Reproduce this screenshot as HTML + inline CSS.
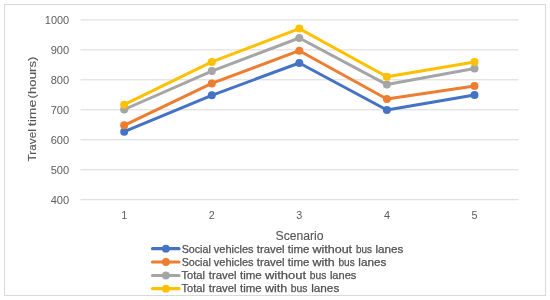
<!DOCTYPE html>
<html><head><meta charset="utf-8"><title>Chart</title>
<style>
html,body{margin:0;padding:0;background:#fff;}
body{width:550px;height:300px;overflow:hidden;}
svg{display:block;}
text{font-family:"Liberation Sans",sans-serif;fill:#505050;stroke:#505050;stroke-width:0.25px;}
text.t{fill:#5c5c5c;stroke:none;}
text.h{fill:#555;stroke:#555;stroke-width:0.1px;}
</style></head><body>
<svg width="550" height="300" viewBox="0 0 550 300">
<rect x="0" y="0" width="550" height="300" fill="#fff"/>
<rect x="4.5" y="4.5" width="541" height="291" fill="#fff" stroke="#d9d9d9" stroke-width="1"/>

<line x1="80.5" y1="19.90" x2="518.5" y2="19.90" stroke="#d9d9d9" stroke-width="1"/>
<text class="t" x="69.2" y="24" font-size="10.8" text-anchor="end" textLength="24.4" lengthAdjust="spacingAndGlyphs">1000</text>
<line x1="80.5" y1="49.87" x2="518.5" y2="49.87" stroke="#d9d9d9" stroke-width="1"/>
<text class="t" x="69.2" y="54" font-size="10.8" text-anchor="end" textLength="18.5" lengthAdjust="spacingAndGlyphs">900</text>
<line x1="80.5" y1="79.84" x2="518.5" y2="79.84" stroke="#d9d9d9" stroke-width="1"/>
<text class="t" x="69.2" y="84" font-size="10.8" text-anchor="end" textLength="18.5" lengthAdjust="spacingAndGlyphs">800</text>
<line x1="80.5" y1="109.81" x2="518.5" y2="109.81" stroke="#d9d9d9" stroke-width="1"/>
<text class="t" x="69.2" y="114" font-size="10.8" text-anchor="end" textLength="18.5" lengthAdjust="spacingAndGlyphs">700</text>
<line x1="80.5" y1="139.78" x2="518.5" y2="139.78" stroke="#d9d9d9" stroke-width="1"/>
<text class="t" x="69.2" y="144" font-size="10.8" text-anchor="end" textLength="18.5" lengthAdjust="spacingAndGlyphs">600</text>
<line x1="80.5" y1="169.75" x2="518.5" y2="169.75" stroke="#d9d9d9" stroke-width="1"/>
<text class="t" x="69.2" y="174" font-size="10.8" text-anchor="end" textLength="18.5" lengthAdjust="spacingAndGlyphs">500</text>
<line x1="80.5" y1="199.72" x2="518.5" y2="199.72" stroke="#d9d9d9" stroke-width="1"/>
<text class="t" x="69.2" y="204" font-size="10.8" text-anchor="end" textLength="18.5" lengthAdjust="spacingAndGlyphs">400</text>
<text class="t" x="124.2" y="219.3" font-size="10.8" text-anchor="middle">1</text>
<text class="t" x="211.8" y="219.3" font-size="10.8" text-anchor="middle">2</text>
<text class="t" x="299.3" y="219.3" font-size="10.8" text-anchor="middle">3</text>
<text class="t" x="386.9" y="219.3" font-size="10.8" text-anchor="middle">4</text>
<text class="t" x="474.5" y="219.3" font-size="10.8" text-anchor="middle">5</text>
<polyline points="124.2,131.7 211.8,95.3 299.3,63.0 386.9,110.0 474.5,95.0" fill="none" stroke="#4472C4" stroke-width="3" stroke-linejoin="round" stroke-linecap="round"/>
<circle cx="124.2" cy="131.7" r="4.0" fill="#4472C4"/>
<circle cx="211.8" cy="95.3" r="4.0" fill="#4472C4"/>
<circle cx="299.3" cy="63.0" r="4.0" fill="#4472C4"/>
<circle cx="386.9" cy="110.0" r="4.0" fill="#4472C4"/>
<circle cx="474.5" cy="95.0" r="4.0" fill="#4472C4"/>
<polyline points="124.2,125.3 211.8,83.4 299.3,50.7 386.9,99.0 474.5,86.0" fill="none" stroke="#ED7D31" stroke-width="3" stroke-linejoin="round" stroke-linecap="round"/>
<circle cx="124.2" cy="125.3" r="4.0" fill="#ED7D31"/>
<circle cx="211.8" cy="83.4" r="4.0" fill="#ED7D31"/>
<circle cx="299.3" cy="50.7" r="4.0" fill="#ED7D31"/>
<circle cx="386.9" cy="99.0" r="4.0" fill="#ED7D31"/>
<circle cx="474.5" cy="86.0" r="4.0" fill="#ED7D31"/>
<polyline points="124.2,109.5 211.8,71.1 299.3,38.0 386.9,84.6 474.5,68.6" fill="none" stroke="#A5A5A5" stroke-width="3" stroke-linejoin="round" stroke-linecap="round"/>
<circle cx="124.2" cy="109.5" r="4.0" fill="#A5A5A5"/>
<circle cx="211.8" cy="71.1" r="4.0" fill="#A5A5A5"/>
<circle cx="299.3" cy="38.0" r="4.0" fill="#A5A5A5"/>
<circle cx="386.9" cy="84.6" r="4.0" fill="#A5A5A5"/>
<circle cx="474.5" cy="68.6" r="4.0" fill="#A5A5A5"/>
<polyline points="124.2,104.7 211.8,61.9 299.3,28.6 386.9,76.7 474.5,62.1" fill="none" stroke="#FFC000" stroke-width="3" stroke-linejoin="round" stroke-linecap="round"/>
<circle cx="124.2" cy="104.7" r="4.0" fill="#FFC000"/>
<circle cx="211.8" cy="61.9" r="4.0" fill="#FFC000"/>
<circle cx="299.3" cy="28.6" r="4.0" fill="#FFC000"/>
<circle cx="386.9" cy="76.7" r="4.0" fill="#FFC000"/>
<circle cx="474.5" cy="62.1" r="4.0" fill="#FFC000"/>
<text class="h" x="299.6" y="240" font-size="12" text-anchor="middle" textLength="48" lengthAdjust="spacingAndGlyphs">Scenario</text>
<g transform="translate(36.3,161.3) rotate(-90)" font-size="11.4">
<text class="h" x="-0.10" y="0" textLength="32.30" lengthAdjust="spacingAndGlyphs">Travel</text>
<text class="h" x="35.10" y="0" textLength="26.60" lengthAdjust="spacingAndGlyphs">time</text>
<text class="h" x="62.90" y="0" textLength="41.80" lengthAdjust="spacingAndGlyphs">(hours)</text>
</g>
<line x1="152.5" y1="248.7" x2="179" y2="248.7" stroke="#4472C4" stroke-width="3.2" stroke-linecap="round"/>
<circle cx="165.9" cy="248.7" r="3.9" fill="#4472C4"/>
<g font-size="11">
<text x="181.70" y="253" textLength="29.10" lengthAdjust="spacingAndGlyphs">Social</text>
<text x="213.80" y="253" textLength="39.80" lengthAdjust="spacingAndGlyphs">vehicles</text>
<text x="256.80" y="253" textLength="27.80" lengthAdjust="spacingAndGlyphs">travel</text>
<text x="287.80" y="253" textLength="21.70" lengthAdjust="spacingAndGlyphs">time</text>
<text x="312.40" y="253" textLength="39.70" lengthAdjust="spacingAndGlyphs">without</text>
<text x="355.90" y="253" textLength="16.00" lengthAdjust="spacingAndGlyphs">bus</text>
<text x="375.50" y="253" textLength="27.80" lengthAdjust="spacingAndGlyphs">lanes</text>
</g>
<line x1="152.5" y1="262.0" x2="179" y2="262.0" stroke="#ED7D31" stroke-width="3.2" stroke-linecap="round"/>
<circle cx="165.9" cy="262.0" r="3.9" fill="#ED7D31"/>
<g font-size="11">
<text x="181.70" y="266" textLength="29.10" lengthAdjust="spacingAndGlyphs">Social</text>
<text x="213.80" y="266" textLength="39.80" lengthAdjust="spacingAndGlyphs">vehicles</text>
<text x="256.80" y="266" textLength="27.80" lengthAdjust="spacingAndGlyphs">travel</text>
<text x="287.80" y="266" textLength="21.70" lengthAdjust="spacingAndGlyphs">time</text>
<text x="312.40" y="266" textLength="22.20" lengthAdjust="spacingAndGlyphs">with</text>
<text x="338.40" y="266" textLength="16.30" lengthAdjust="spacingAndGlyphs">bus</text>
<text x="358.30" y="266" textLength="28.00" lengthAdjust="spacingAndGlyphs">lanes</text>
</g>
<line x1="152.5" y1="275.5" x2="179" y2="275.5" stroke="#A5A5A5" stroke-width="3.2" stroke-linecap="round"/>
<circle cx="165.9" cy="275.5" r="3.9" fill="#A5A5A5"/>
<g font-size="11">
<text x="181.50" y="279" textLength="23.50" lengthAdjust="spacingAndGlyphs">Total</text>
<text x="208.80" y="279" textLength="27.80" lengthAdjust="spacingAndGlyphs">travel</text>
<text x="240.00" y="279" textLength="21.70" lengthAdjust="spacingAndGlyphs">time</text>
<text x="264.90" y="279" textLength="41.30" lengthAdjust="spacingAndGlyphs">without</text>
<text x="309.70" y="279" textLength="16.60" lengthAdjust="spacingAndGlyphs">bus</text>
<text x="329.90" y="279" textLength="26.50" lengthAdjust="spacingAndGlyphs">lanes</text>
</g>
<line x1="152.5" y1="288.7" x2="179" y2="288.7" stroke="#FFC000" stroke-width="3.2" stroke-linecap="round"/>
<circle cx="165.9" cy="288.7" r="3.9" fill="#FFC000"/>
<g font-size="11">
<text x="181.50" y="292" textLength="23.50" lengthAdjust="spacingAndGlyphs">Total</text>
<text x="208.80" y="292" textLength="27.80" lengthAdjust="spacingAndGlyphs">travel</text>
<text x="240.00" y="292" textLength="21.70" lengthAdjust="spacingAndGlyphs">time</text>
<text x="264.90" y="292" textLength="22.20" lengthAdjust="spacingAndGlyphs">with</text>
<text x="290.80" y="292" textLength="16.70" lengthAdjust="spacingAndGlyphs">bus</text>
<text x="311.20" y="292" textLength="28.10" lengthAdjust="spacingAndGlyphs">lanes</text>
</g>
</svg></body></html>
